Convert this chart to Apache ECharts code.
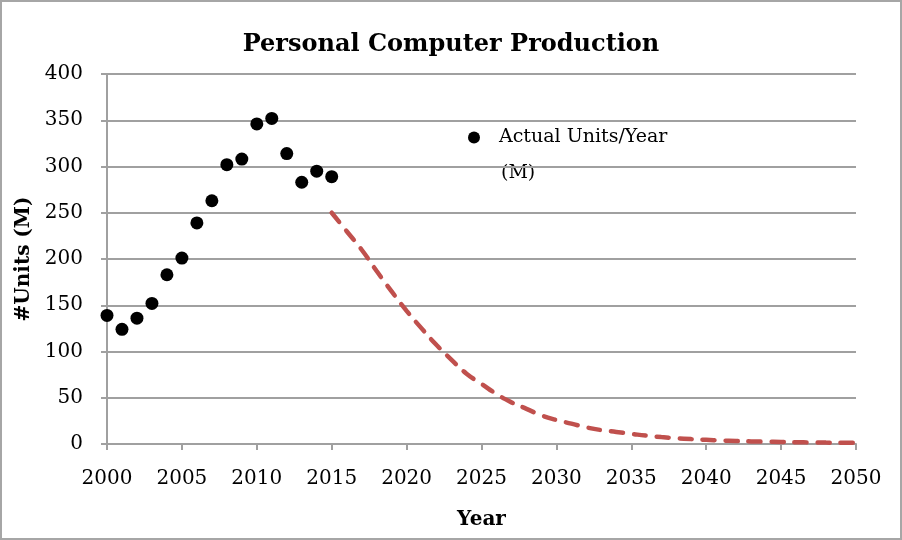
<!DOCTYPE html>
<html>
<head>
<meta charset="utf-8">
<script src="https://cdn.jsdelivr.net/npm/echarts@6/dist/echarts.min.js"></script>
<style>
  html, body { margin: 0; padding: 0; background: #fff; }
  #chart { width: 902px; height: 540px; box-sizing: border-box; border: 2px solid #a6a6a6; }
</style>
</head>
<body>
<div id="chart"></div>
<script>
// actual units per year (M)
const actualYears = [2000, 2001, 2002, 2003, 2004, 2005, 2006, 2007, 2008, 2009, 2010, 2011, 2012, 2013, 2014, 2015];
const actualUnits = [139, 124, 136, 152, 183, 201, 239, 263, 302, 308, 346, 352, 314, 283, 295, 289];

// projected decline (dashed)
const projYears = [2015, 2016, 2017, 2018, 2019, 2020, 2021, 2022, 2023, 2024, 2025, 2026, 2027, 2028, 2029, 2030,
  2031, 2032, 2033, 2034, 2035, 2036, 2037, 2038, 2039, 2040, 2041, 2042, 2043, 2044, 2045, 2046, 2047, 2048, 2049, 2050];
const projUnits = [250, 230, 210, 187, 165, 144, 125, 107, 91, 76, 65, 54, 45, 38, 31, 26,
  22, 18, 15, 13, 11, 9, 7.5, 6.3, 5.3, 4.5, 3.8, 3.2, 2.8, 2.5, 2.2, 1.9, 1.7, 1.5, 1.4, 1.3];

const font = 'DejaVu Serif';
const gray = '#a0a0a0';

const chart = echarts.init(document.getElementById('chart'));

chart.setOption({
  animation: false,
  title: {
    text: 'Personal Computer Production',
    left: 'center',
    top: 26,
    textStyle: { fontFamily: font, fontWeight: 'bold', fontSize: 24, color: '#000' }
  },
  legend: {
    data: ['Actual Units/Year'],
    left: 461,
    top: 121,
    icon: 'circle',
    itemWidth: 12,
    itemHeight: 12,
    textStyle: { fontFamily: font, fontSize: 19, color: '#000', padding: [12, 0, 0, 14] }
  },
  // second line of the legend label
  graphic: [{
    type: 'text',
    left: 499,
    top: 162,
    style: { text: '(M)', font: '19px "DejaVu Serif"', fill: '#000' }
  }],
  grid: { left: 105, right: 44, top: 72, bottom: 94 },
  xAxis: {
    type: 'value',
    min: 2000,
    max: 2050,
    interval: 5,
    name: 'Year',
    nameLocation: 'middle',
    nameGap: 66,
    nameTextStyle: { fontFamily: font, fontWeight: 'bold', fontSize: 20, color: '#000' },
    axisLine: { lineStyle: { color: gray, width: 2 } },
    axisTick: { show: true, length: 6, lineStyle: { color: gray, width: 2 } },
    axisLabel: { fontFamily: font, fontSize: 20, color: '#000', margin: 25, formatter: v => String(v) },
    splitLine: { show: false }
  },
  yAxis: {
    type: 'value',
    min: 0,
    max: 400,
    interval: 50,
    name: '#Units (M)',
    nameLocation: 'middle',
    nameRotate: 90,
    nameGap: 70,
    nameTextStyle: { fontFamily: font, fontWeight: 'bold', fontSize: 20, color: '#000' },
    axisLine: { show: true, lineStyle: { color: gray, width: 2 } },
    axisTick: { show: true, length: 6, lineStyle: { color: gray, width: 2 } },
    axisLabel: { fontFamily: font, fontSize: 20, color: '#000', margin: 24 },
    splitLine: { show: true, lineStyle: { color: gray, width: 2 } }
  },
  series: [
    {
      name: 'Actual Units/Year',
      type: 'scatter',
      symbol: 'circle',
      symbolSize: 13,
      itemStyle: { color: '#000', opacity: 1 },
      data: actualYears.map((y, i) => [y, actualUnits[i]]),
      z: 3
    },
    {
      name: 'Projection',
      type: 'line',
      showSymbol: false,
      smooth: true,
      lineStyle: { color: '#c0504d', width: 4.5, type: [12, 11], cap: 'round' },
      data: projYears.map((y, i) => [y, projUnits[i]]),
      z: 2
    }
  ]
});
</script>
</body>
</html>
